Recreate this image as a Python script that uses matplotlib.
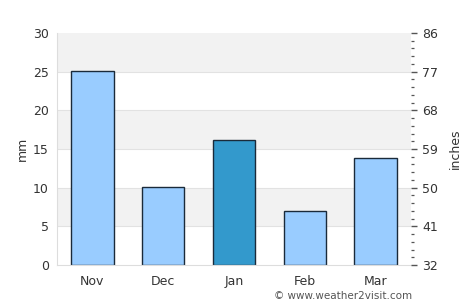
import matplotlib
matplotlib.use("Agg")
import matplotlib.pyplot as plt
import numpy as np

months = ["Nov", "Dec", "Jan", "Feb", "Mar"]
rain_mm = [25.1, 10.1, 16.2, 7.0, 13.8]
highlight = [False, False, True, False, False]
left_ticks = [0, 5, 10, 15, 20, 25, 30]
right_ticks = [32, 41, 50, 59, 68, 77, 86]

light = "#99ccff"
dark = "#3399cc"
text_col = "#333333"

fig = plt.figure(figsize=(4.74, 3.08), dpi=100)
ax = fig.add_axes([57/474, 43/308, 354/474, 232/308])

# background bands
for lo in [5, 15, 25]:
    ax.axhspan(lo, lo + 5, color="#f2f2f2", zorder=0, lw=0)
for y in left_ticks[1:-1]:
    ax.axhline(y, color="#e2e2e2", lw=0.8, zorder=0.5)

x = np.arange(len(months))
colors = [dark if h else light for h in highlight]
ax.bar(x, rain_mm, width=0.6, color=colors, edgecolor="#1a2a3a", linewidth=1.0, zorder=2)

ax.set_xlim(-0.5, len(months) - 0.5)
ax.set_ylim(0, 30)
ax.set_yticks(left_ticks)
ax.set_xticks(x)
ax.set_xticklabels(months)
ax.tick_params(axis="both", length=0, labelsize=9, colors=text_col, pad=6)
ax.tick_params(axis="x", pad=7)
for s in ["top", "right"]:
    ax.spines[s].set_visible(False)
for s in ["left", "bottom"]:
    ax.spines[s].set_color("#dddddd")
    ax.spines[s].set_linewidth(0.8)
ax.set_ylabel("mm", fontsize=9, color=text_col, labelpad=3)

ax2 = ax.twinx()
ax2.set_ylim(right_ticks[0], right_ticks[-1])
ax2.set_yticks(right_ticks)
ax2.set_yticks(np.arange(right_ticks[0], right_ticks[-1] + 0.01, 1.8), minor=True)
ax2.tick_params(axis="y", which="major", length=4, width=1, colors="#555555", labelsize=9, labelcolor=text_col, pad=4)
ax2.tick_params(axis="y", which="minor", length=2, width=0.9, colors="#555555")
for s in ax2.spines.values():
    s.set_visible(False)
ax2.set_ylabel("inches", fontsize=9, color=text_col, labelpad=8)

fig.text(412/474, 1 - 296/308, "\u00a9 www.weather2visit.com", ha="right", va="center",
         fontsize=7.5, color="#555555")

fig.savefig("out.png", dpi=100)
